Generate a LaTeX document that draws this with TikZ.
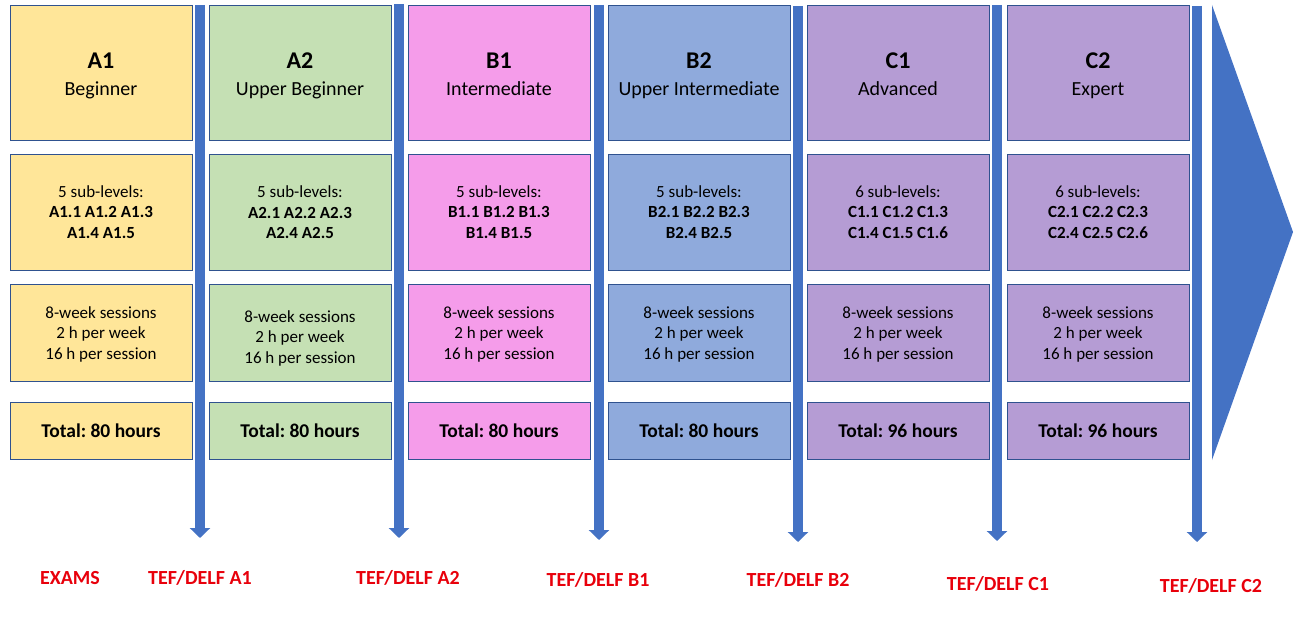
\documentclass[tikz,border=0pt]{standalone}
\usepackage{fontspec}
\setmainfont{Carlito}
\usetikzlibrary{arrows.meta}
\definecolor{levelA}{HTML}{FFE699}
\definecolor{levelAA}{HTML}{C5E0B4}
\definecolor{levelB}{HTML}{F59CEA}
\definecolor{levelBB}{HTML}{8FAADC}
\definecolor{levelC}{HTML}{B59CD4}
\definecolor{boxline}{HTML}{2F528F}
\definecolor{levelblue}{HTML}{4472C4}
\definecolor{examred}{HTML}{E8000B}
\frenchspacing
\newcommand{\lvlhead}[2]{{\fontsize{24}{27}\selectfont\bfseries\rule{0pt}{26pt}#1}\\#2\rule[-6pt]{0pt}{6pt}}
\begin{document}
\begin{tikzpicture}[x=1pt,y=1pt]
\tikzstyle{every node}+=[inner sep=0pt]
\tikzstyle{cell}=[draw=boxline, line width=0.8pt, minimum width=182pt, align=center, font=\fontsize{17}{20.5}\selectfont]
\tikzstyle{head}=[cell, minimum height=135pt, font=\fontsize{20}{27}\selectfont]
\tikzstyle{subs}=[cell, minimum height=116pt]
\tikzstyle{sess}=[cell, minimum height=97pt]
\tikzstyle{total}=[cell, minimum height=57pt, font=\fontsize{19.5}{20}\selectfont\bfseries]
\tikzstyle{exam}=[text=examred, font=\fontsize{20}{20}\selectfont\bfseries]
\tikzstyle{level}=[levelblue, line width=10pt, -{Triangle[width=20pt,length=10pt]}]
\useasboundingbox (0,0) rectangle (1305,-617);
% A1
\node [head, fill=levelA] (a1head) at (101,-72.5) {\lvlhead{A1}{Beginner}};
\node [subs, fill=levelA] (a1subs) at (101,-212) {5 sub-levels:\\\textbf{A1.1 A1.2 A1.3}\\\textbf{A1.4 A1.5}};
\node [sess, fill=levelA] (a1sess) at (101,-332.5) {\rule{0pt}{15pt}8-week sessions\\2 h per week\\16 h per session};
\node [total, fill=levelA] (a1total) at (101,-430.5) {Total: 80 hours};
% A2
\node [head, fill=levelAA] (a2head) at (300,-72.5) {\lvlhead{A2}{Upper Beginner}};
\node [subs, fill=levelAA] (a2subs) at (300,-212.5) {5 sub-levels:\\\textbf{A2.1 A2.2 A2.3}\\\textbf{A2.4 A2.5}};
\node [sess, fill=levelAA] (a2sess) at (300,-333) {\rule{0pt}{22pt}8-week sessions\\2 h per week\\16 h per session};
\node [total, fill=levelAA] (a2total) at (300,-430.5) {Total: 80 hours};
% B1
\node [head, fill=levelB] (b1head) at (499,-72.5) {\lvlhead{B1}{Intermediate}};
\node [subs, fill=levelB] (b1subs) at (499,-212) {5 sub-levels:\\\textbf{B1.1 B1.2 B1.3}\\\textbf{B1.4 B1.5}};
\node [sess, fill=levelB] (b1sess) at (499,-332.5) {\rule{0pt}{15pt}8-week sessions\\2 h per week\\16 h per session};
\node [total, fill=levelB] (b1total) at (499,-430.5) {Total: 80 hours};
% B2
\node [head, fill=levelBB] (b2head) at (699,-72.5) {\lvlhead{B2}{Upper Intermediate}};
\node [subs, fill=levelBB] (b2subs) at (699,-212) {5 sub-levels:\\\textbf{B2.1 B2.2 B2.3}\\\textbf{B2.4 B2.5}};
\node [sess, fill=levelBB] (b2sess) at (699,-332.5) {\rule{0pt}{15pt}8-week sessions\\2 h per week\\16 h per session};
\node [total, fill=levelBB] (b2total) at (699,-430.5) {Total: 80 hours};
% C1
\node [head, fill=levelC] (c1head) at (898,-72.5) {\lvlhead{C1}{Advanced}};
\node [subs, fill=levelC] (c1subs) at (898,-212) {6 sub-levels:\\\textbf{C1.1 C1.2 C1.3}\\\textbf{C1.4 C1.5 C1.6}};
\node [sess, fill=levelC] (c1sess) at (898,-332.5) {\rule{0pt}{15pt}8-week sessions\\2 h per week\\16 h per session};
\node [total, fill=levelC] (c1total) at (898,-430.5) {Total: 96 hours};
% C2
\node [head, fill=levelC] (c2head) at (1098,-72.5) {\lvlhead{C2}{Expert}};
\node [subs, fill=levelC] (c2subs) at (1098,-212) {6 sub-levels:\\\textbf{C2.1 C2.2 C2.3}\\\textbf{C2.4 C2.5 C2.6}};
\node [sess, fill=levelC] (c2sess) at (1098,-332.5) {\rule{0pt}{15pt}8-week sessions\\2 h per week\\16 h per session};
\node [total, fill=levelC] (c2total) at (1098,-430.5) {Total: 96 hours};
% exam arrows
\coordinate (a1top) at (200,-5);
\coordinate (a1end) at (200,-538);
\coordinate (a2top) at (399,-4);
\coordinate (a2end) at (399,-538);
\coordinate (b1top) at (599,-5);
\coordinate (b1end) at (599,-540);
\coordinate (b2top) at (798,-6);
\coordinate (b2end) at (798,-542);
\coordinate (c1top) at (997,-5);
\coordinate (c1end) at (997,-541);
\coordinate (c2top) at (1197,-6);
\coordinate (c2end) at (1197,-542);
\draw [level] (a1top) -- (a1end);
\draw [level] (a2top) -- (a2end);
\draw [level] (b1top) -- (b1end);
\draw [level] (b2top) -- (b2end);
\draw [level] (c1top) -- (c1end);
\draw [level] (c2top) -- (c2end);
% big arrow head
\fill [levelblue] (1212,-5) -- (1293,-232) -- (1212,-460) -- cycle;
% exams
\node [exam] (examlabel) at (70,-578) {EXAMS};
\node [exam] (a1exam) at (200,-578) {TEF/DELF A1};
\node [exam] (a2exam) at (408,-578) {TEF/DELF A2};
\node [exam] (b1exam) at (598,-580) {TEF/DELF B1};
\node [exam] (b2exam) at (798,-580) {TEF/DELF B2};
\node [exam] (c1exam) at (998,-584) {TEF/DELF C1};
\node [exam] (c2exam) at (1211,-586) {TEF/DELF C2};
\end{tikzpicture}
\end{document}
